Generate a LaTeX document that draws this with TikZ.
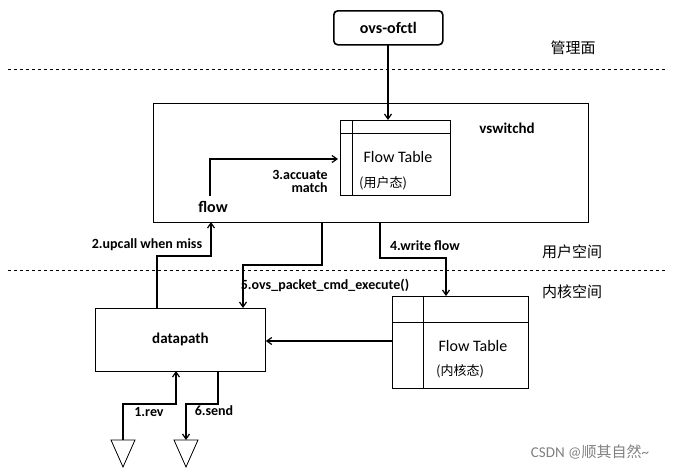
\documentclass[tikz,border=0pt]{standalone}
\usepackage{fontspec}
\setmainfont{Carlito}
\newfontfamily\cjk{Noto Sans CJK SC}
\usetikzlibrary{arrows.meta}
\usetikzlibrary{positioning}

\begin{document}
\begin{tikzpicture}[x=1pt,y=-1pt,>={Straight Barb[length=5pt,width=7pt]},
    box/.style={draw,line width=0.8pt,inner sep=0pt,anchor=north west},
    lbl/.style={font=\bfseries\fontsize{14}{14}\selectfont,inner sep=1pt},
    zh/.style={font=\cjk\fontsize{15}{16}\selectfont,inner sep=1pt},
    conn/.style={line width=1.2pt,->},
    sep/.style={dashed,line width=0.6pt}]
    \useasboundingbox (0,0) rectangle (673,475);

    % layers
    \draw[sep] (8,69) -- (665,69);
    \draw[sep] (8,270) -- (665,270);
    \node[zh] (mgmt) at (573,48) {管理面};
    \node[zh] (user) at (572,252) {用户空间};
    \node[zh] (kern) at (572,292) {内核空间};

    % boxes
    \node[box,draw,line width=1.6pt,rounded corners=4pt,minimum width=109pt,minimum height=34pt] (ofctl) at (333,10) {};
    \node[lbl,font=\bfseries\fontsize{16}{16}\selectfont] at (ofctl.center) {ovs-ofctl};
    \node[box,minimum width=435pt,minimum height=119pt] (vsw) at (153,103) {};
    \node[lbl,font=\bfseries\fontsize{15}{15}\selectfont] (vswl) at (507,128) {vswitchd};

    \node[box,minimum width=110pt,minimum height=75pt] (uft) at (340,120) {};
    \draw (340,133) -- (450,133) (352,120) -- (352,195);
    \node[font=\fontsize{16}{16}\selectfont] (uftl) at (398,157) {Flow Table};
    \node[zh,font=\cjk\fontsize{13}{14}\selectfont] (uftz) at (383,183) {(用户态)};

    \node[box,minimum width=170pt,minimum height=63pt] (dp) at (95,308) {};
    \node[lbl,font=\bfseries\fontsize{15}{15}\selectfont] (dpl) at (dp.center) {datapath};

    \node[box,minimum width=136pt,minimum height=92pt] (kft) at (392,296) {};
    \draw (392,322) -- (528,322) (423,296) -- (423,388);
    \node[font=\fontsize{16}{16}\selectfont] (kftl) at (473,346) {Flow Table};
    \node[zh,font=\cjk\fontsize{13}{14}\selectfont] (kftz) at (460,371) {(内核态)};

    \node[lbl,font=\bfseries\fontsize{16}{16}\selectfont] (flow) at (213,207) {flow};

    % ports
    \coordinate (rx) at (123,440);
    \coordinate (tx) at (186,440);
    \draw[line width=0.8pt] (rx) ++(-12,0) -- ++(24,0) -- ++(-12,27) -- cycle;
    \draw[line width=0.8pt] (tx) ++(-12,0) -- ++(24,0) -- ++(-12,27) -- cycle;

    % connectors
    \draw[conn] (388,44) -- (388,120);
    \draw[conn] (210,196) -- (210,159) -- (338,159);
    \node[lbl,align=right,font=\bfseries\fontsize{14}{13}\selectfont] (m3) at (300,181) {3.accuate\\match};
    \draw[conn] (157,308) -- (157,256) -- (211,256) -- (211,222);
    \node[lbl] (m2) at (147,245) {2.upcall when miss};
    \draw[conn] (322,222) -- (322,265) -- (243,265) -- (243,308);
    \node[lbl] (m5) at (325,285) {5.ovs\_packet\_cmd\_execute()};
    \draw[conn] (380,222) -- (380,258) -- (446,258) -- (446,296);
    \node[lbl] (m4) at (425,246) {4.write flow};
    \draw[conn] (kft.west |- 0,341) -- (dp.east |- 0,341);
    \draw[conn] (rx) -- (123,404) -- (176,404) -- (176,371);
    \node[lbl] (m1) at (149,412) {1.rev};
    \draw[conn] (218,371) -- (218,404) -- (186,404) -- (tx);
    \node[lbl] (m6) at (214,411) {6.send};

    \node[font=\fontsize{15}{16}\selectfont,text=gray,inner sep=0pt] (wm) at (590,452) {CSDN @{\cjk 顺其自然}\textasciitilde};
\end{tikzpicture}
\end{document}
